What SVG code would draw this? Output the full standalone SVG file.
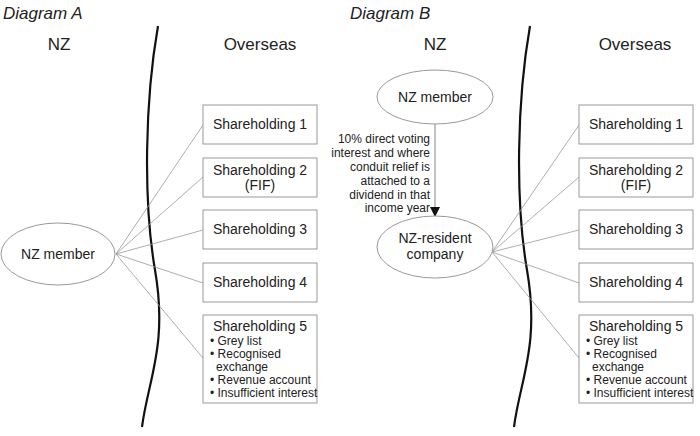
<svg xmlns="http://www.w3.org/2000/svg" width="700" height="436" viewBox="0 0 700 436">
<style>
text{font-family:"Liberation Sans",Arial,sans-serif;fill:#222}
.h{font-size:17px;text-anchor:middle}
.t{font-size:17px;font-style:italic}
.n{font-size:14px;text-anchor:middle}
.b{font-size:12px}
.s{font-size:12px;text-anchor:end}
.box{fill:#fff;stroke:#999;stroke-width:1}
.con{stroke:#999;stroke-width:0.8;fill:none}
.curve{stroke:#111;stroke-width:2.2;fill:none}
</style>
<defs><marker id="ar" markerWidth="10" markerHeight="10" refX="9" refY="5" orient="auto" markerUnits="userSpaceOnUse"><path d="M0,0L10,5L0,10z" fill="#111"/></marker></defs>
<text x="3" y="19" class="t">Diagram A</text>
<text x="59" y="50" class="h">NZ</text>
<text x="260" y="50" class="h">Overseas</text>
<text x="350" y="19" class="t">Diagram B</text>
<text x="435" y="50" class="h">NZ</text>
<text x="635" y="50" class="h">Overseas</text>
<path class="curve" d="M158,26 C145,100 143,200 155,270 C168,345 148,380 142,427"/>
<path class="curve" d="M530,26 C517,100 515,200 527,270 C540,345 520,380 514,427"/>
<g id="connectors">
<path class="con" d="M116,254L203,125M116,254L203,177M116,254L203,230M116,254L203,283M116,254L203,358"/>
<path class="con" d="M492,252L579,125M492,252L579,177M492,252L579,230M492,252L579,283M492,252L579,358"/>
<path d="M435,124V216" stroke="#999" stroke-width="1.2" marker-end="url(#ar)"/>
<text class="s"><tspan x="430" y="143">10% direct voting</tspan><tspan x="430" y="157">interest and where</tspan><tspan x="430" y="171">conduit relief is</tspan><tspan x="430" y="185">attached to a</tspan><tspan x="430" y="199">dividend in that</tspan><tspan x="430" y="212">income year</tspan></text>
</g>
<g id="a-member"><ellipse cx="58" cy="254" rx="57" ry="31" class="box"/><text x="58" y="259" class="n">NZ member</text></g>
<g id="b-member"><ellipse cx="435" cy="97" rx="58" ry="27" class="box"/><text x="435" y="102" class="n">NZ member</text></g>
<g id="b-company"><ellipse cx="435" cy="247" rx="58" ry="31" class="box"/><text x="435" y="243" class="n">NZ-resident</text><text x="435" y="259" class="n">company</text></g>
<g id="a-s1"><rect x="203" y="105" width="114" height="39" class="box"/><text x="260" y="129" class="n">Shareholding 1</text></g>
<g id="a-s2"><rect x="203" y="158" width="114" height="39" class="box"/><text x="260" y="175" class="n">Shareholding 2</text><text x="260" y="190" class="n">(FIF)</text></g>
<g id="a-s3"><rect x="203" y="210" width="114" height="39" class="box"/><text x="260" y="234" class="n">Shareholding 3</text></g>
<g id="a-s4"><rect x="203" y="263" width="114" height="39" class="box"/><text x="260" y="287" class="n">Shareholding 4</text></g>
<g id="a-s5"><rect x="203" y="315" width="114" height="88" class="box"/><text x="260" y="331" class="n">Shareholding 5</text>
<text class="b"><tspan x="210" y="345">• Grey list</tspan><tspan x="210" y="358">• Recognised</tspan><tspan x="216" y="371">exchange</tspan><tspan x="210" y="384">• Revenue account</tspan><tspan x="210" y="397">• Insufficient interest</tspan></text></g>
<g id="b-s1"><rect x="579" y="105" width="114" height="39" class="box"/><text x="636" y="129" class="n">Shareholding 1</text></g>
<g id="b-s2"><rect x="579" y="158" width="114" height="39" class="box"/><text x="636" y="175" class="n">Shareholding 2</text><text x="636" y="190" class="n">(FIF)</text></g>
<g id="b-s3"><rect x="579" y="210" width="114" height="39" class="box"/><text x="636" y="234" class="n">Shareholding 3</text></g>
<g id="b-s4"><rect x="579" y="263" width="114" height="39" class="box"/><text x="636" y="287" class="n">Shareholding 4</text></g>
<g id="b-s5"><rect x="579" y="315" width="114" height="88" class="box"/><text x="636" y="331" class="n">Shareholding 5</text>
<text class="b"><tspan x="586" y="345">• Grey list</tspan><tspan x="586" y="358">• Recognised</tspan><tspan x="592" y="371">exchange</tspan><tspan x="586" y="384">• Revenue account</tspan><tspan x="586" y="397">• Insufficient interest</tspan></text></g>
</svg>
